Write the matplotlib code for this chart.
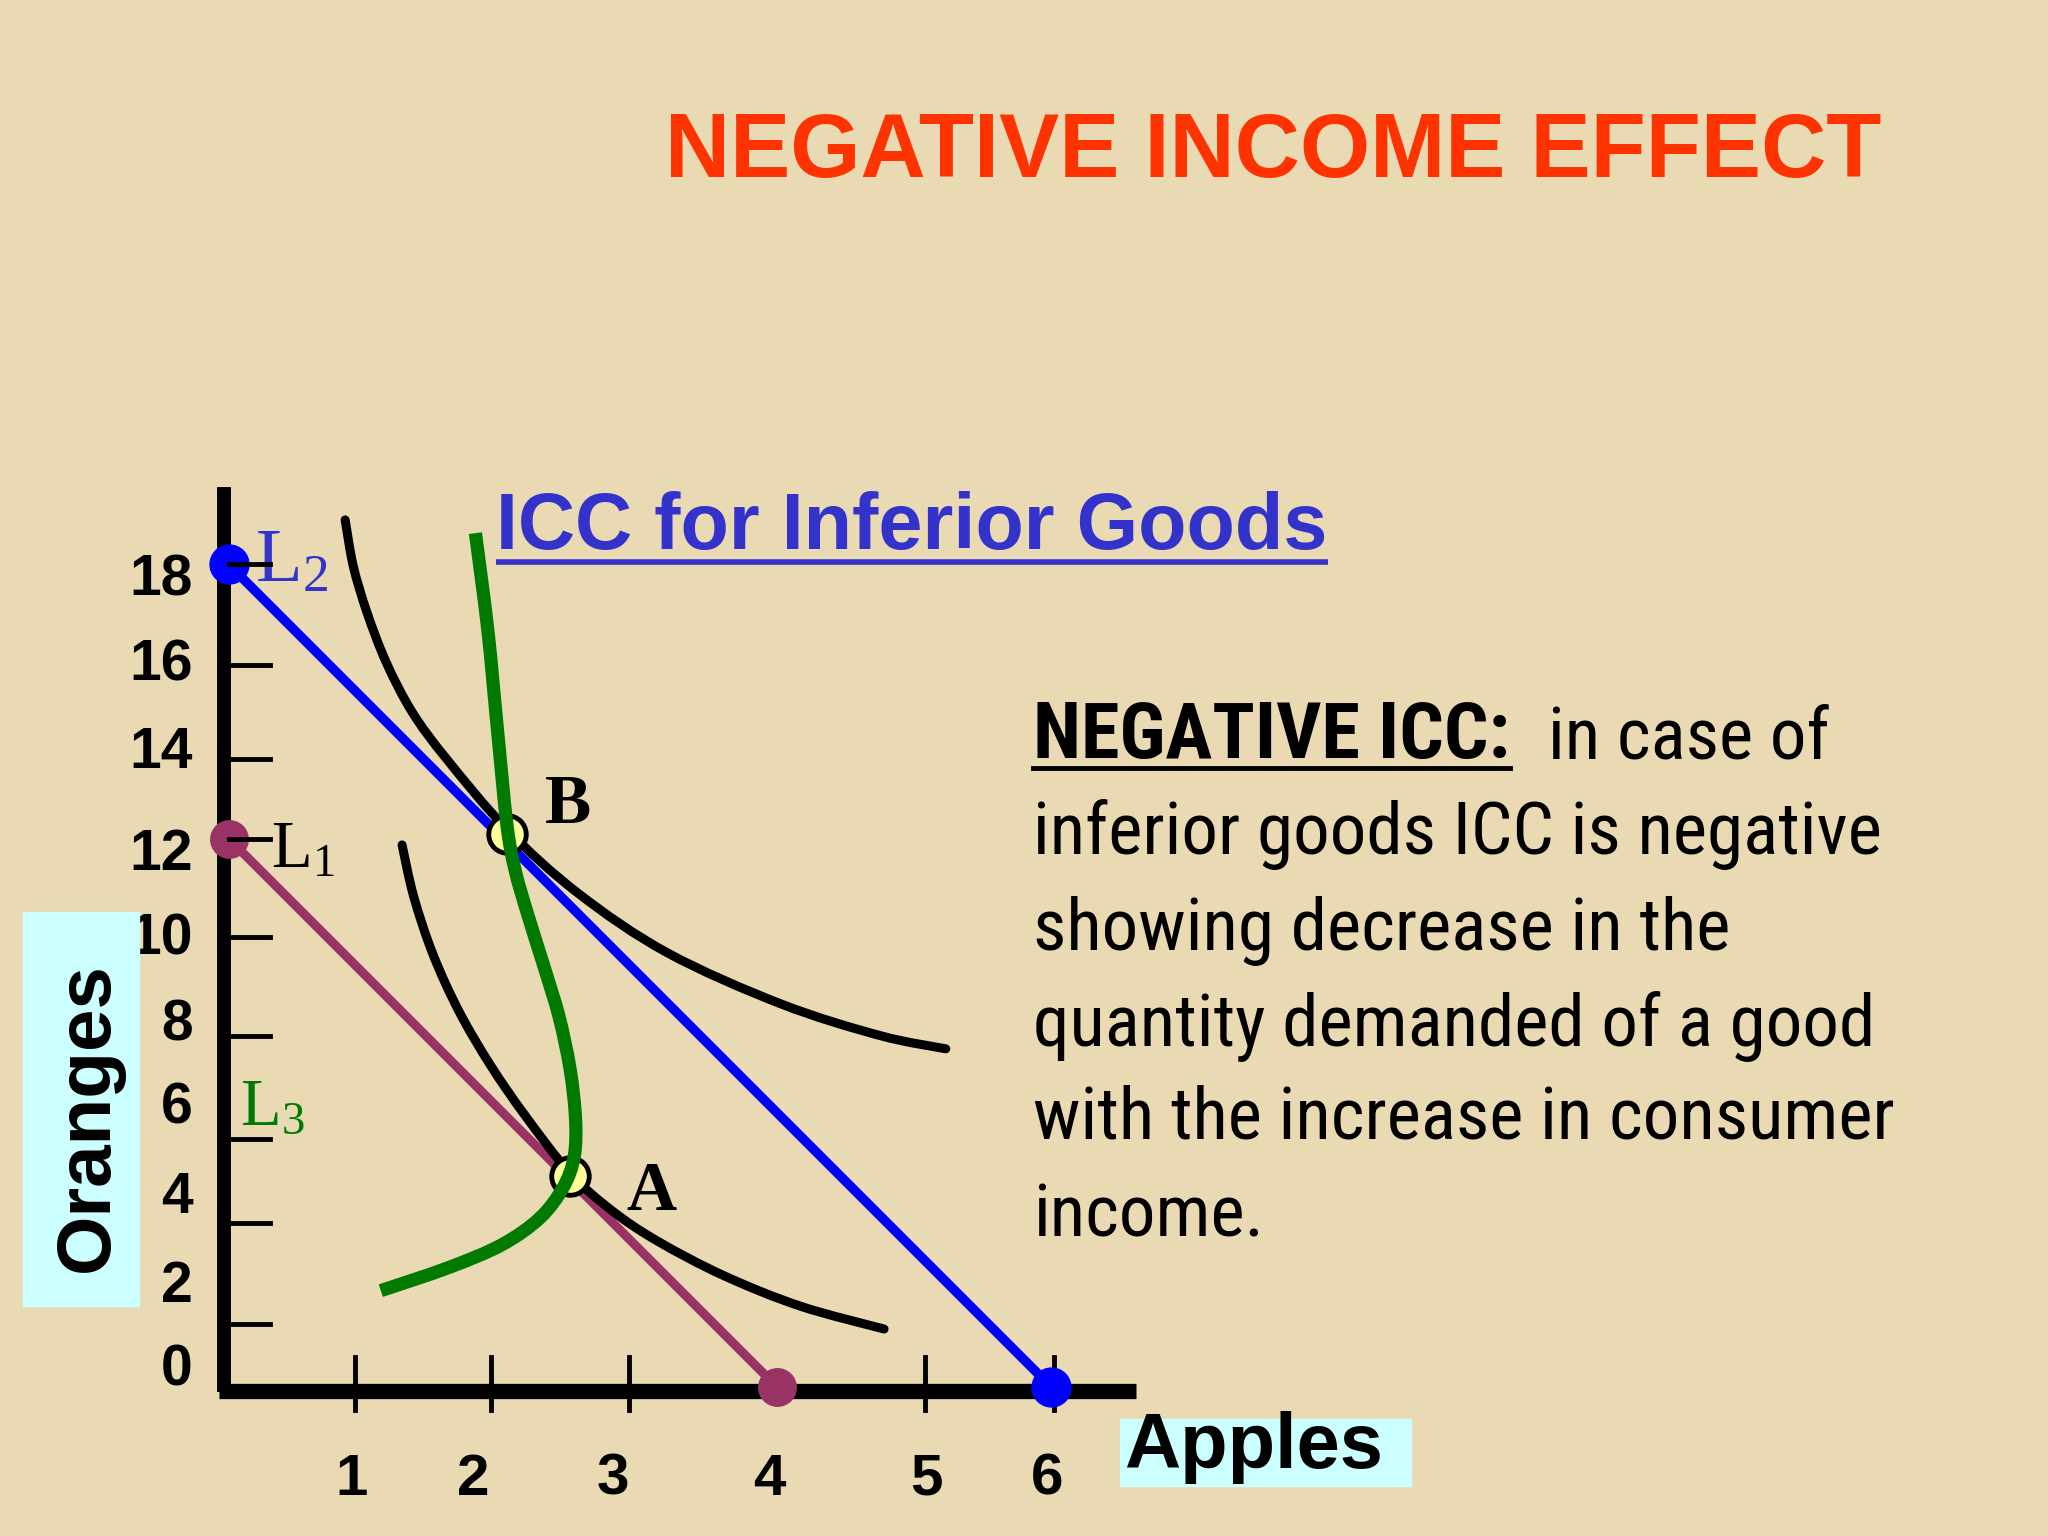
import matplotlib
matplotlib.use("Agg")
import matplotlib.pyplot as plt
from matplotlib import font_manager
from matplotlib.path import Path
from matplotlib.patches import PathPatch, Rectangle

# ---- data (apples on x, oranges on y) ----
l2_x = [0, 6]
l2_y = [18, 0]
l1_x = [0, 4]
l1_y = [12, 0]

ic2_x = [0.85, 0.91, 1.01, 1.15, 1.34, 1.59, 2.03, 2.55, 3.2, 4.03, 4.75, 5.23]
ic2_y = [18.97, 17.95, 16.94, 15.85, 14.76, 13.74, 12.2, 10.8, 9.5, 8.38, 7.69, 7.40]
ic1_x = [1.265, 1.35, 1.49, 1.68, 1.91, 2.16, 2.49, 2.8, 3.13, 3.61, 4.17, 4.78]
ic1_y = [11.86, 10.73, 9.47, 8.22, 7.04, 5.95, 4.68, 3.85, 3.19, 2.44, 1.77, 1.27]
icc_x = [1.80, 1.89, 1.96, 2.03, 2.09, 2.18, 2.30, 2.41, 2.49, 2.53, 2.52, 2.44, 2.27,
         1.99, 1.60, 1.11]
icc_y = [18.68, 16.57, 14.40, 12.29, 11.3, 10.35, 9.2, 8.1, 6.96, 5.87, 5.04, 4.37, 3.70,
         3.11, 2.61, 2.11]

eq_names = ["A", "B"]
eq_x = [2.49, 2.03]
eq_y = [4.62, 12.1]

y_labels = ["18", "16", "14", "12", "10", "8", "6", "4", "2", "0"]
y_label_pos = [17.65, 15.78, 13.87, 11.65, 9.8, 7.9, 6.09, 4.13, 2.2, 0.36]
y_ticks = [18, 15.8, 13.75, 12, 9.85, 7.68, 5.42, 3.6, 1.38]
x_labels = ["1", "2", "3", "4", "5", "6"]
x_label_pos = [0.895, 1.787, 2.8, 3.94, 5.09, 5.97]
x_ticks = [0.92, 1.91, 2.92, 5.08, 6.02]

desc_lines = ["inferior goods ICC is negative",
              "showing decrease in the",
              "quantity demanded of a good",
              "with the increase in consumer",
              "income."]

BG = "#eadab4"
BLUE = "#0000ff"
PURPLE = "#993366"
GREEN = "#007a00"

# pick a narrow sans for the body text (Arial Narrow look)
entries = {(f.name, f.stretch) for f in font_manager.fontManager.ttflist}
narrow = {"family": "Liberation Sans"}
for fam, st in [("Liberation Sans Narrow", None), ("Roboto Condensed", None),
                ("Open Sans Condensed", None), ("Noto Sans", "condensed"),
                ("Roboto", "condensed"), ("Open Sans", "condensed"),
                ("DejaVu Sans", "condensed")]:
    if st is None and any(n == fam for n, _ in entries):
        narrow = {"family": fam}
        break
    if st is not None and (fam, st) in entries:
        narrow = {"family": fam, "stretch": st}
        break

plt.rcParams["mathtext.fontset"] = "custom"
plt.rcParams["mathtext.rm"] = "Liberation Serif"
plt.rcParams["mathtext.it"] = "Liberation Serif:italic"


def smooth(ax, xs, ys, **kw):
    # Catmull-Rom curve through the read points, drawn as cubic bezier segments
    pts = list(zip(xs, ys))
    n = len(pts)
    verts = [pts[0]]
    codes = [Path.MOVETO]
    for i in range(n - 1):
        p0 = pts[max(i - 1, 0)]
        p1 = pts[i]
        p2 = pts[i + 1]
        p3 = pts[min(i + 2, n - 1)]
        c1 = (p1[0] + (p2[0] - p0[0]) / 6, p1[1] + (p2[1] - p0[1]) / 6)
        c2 = (p2[0] - (p3[0] - p1[0]) / 6, p2[1] - (p3[1] - p1[1]) / 6)
        verts += [c1, c2, p2]
        codes += [Path.CURVE4] * 3
    ax.add_patch(PathPatch(Path(verts, codes), fill=False, **kw))


fig = plt.figure(figsize=(20.48, 15.36), dpi=100, facecolor=BG)
ax = fig.add_axes([0, 0, 1, 1])
ax.set_facecolor(BG)
ax.set_xlim(-175 / 105, (1568 - 175) / 105)
ax.set_ylim((1062 - 1176) / 35, 1062 / 35)
ax.axis("off")
renderer = fig.canvas.get_renderer()

# axes
ax.plot([-0.03, -0.03], [-0.1, 19.7], color="black", lw=10, solid_capstyle="butt", zorder=1)
ax.plot([-0.07, 6.62], [-0.09, -0.09], color="black", lw=11, solid_capstyle="butt", zorder=1)
for t in y_ticks:
    ax.plot([0.0, 0.3], [t, t], color="black", lw=3.5, zorder=7)
for t in x_ticks:
    ax.plot([t, t], [-0.5, 0.65], color="black", lw=3.5, zorder=1)

for lab, y in zip(y_labels, y_label_pos):
    ax.text(-0.26, y, lab, ha="right", va="center", fontsize=41, fontweight="bold",
            family="Liberation Sans", zorder=2)
for lab, x in zip(x_labels, x_label_pos):
    ax.text(x, -2.03, lab, ha="center", va="center", fontsize=42, fontweight="bold",
            family="Liberation Sans")

# budget lines
ax.plot(l2_x, l2_y, color=BLUE, lw=6.8, zorder=2)
ax.plot(l1_x, l1_y, color=PURPLE, lw=6.5, zorder=2)
ax.plot(l2_x, l2_y, "o", color=BLUE, ms=28, zorder=6)
ax.plot(l1_x, l1_y, "o", color=PURPLE, ms=27, zorder=6)

# indifference curves and ICC
smooth(ax, ic2_x, ic2_y, color="black", lw=6.5, capstyle="round", zorder=3)
smooth(ax, ic1_x, ic1_y, color="black", lw=6.5, capstyle="round", zorder=3)
ax.plot(eq_x, eq_y, "o", ms=27, mfc="#ffff99", mec="black", mew=3.5, zorder=4)
smooth(ax, icc_x, icc_y, color=GREEN, lw=9.5, capstyle="butt", zorder=5)

ax.text(2.90, 3.87, eq_names[0], fontsize=50, fontweight="bold", family="Liberation Serif",
        va="baseline")
ax.text(2.31, 12.34, eq_names[1], fontsize=50, fontweight="bold", family="Liberation Serif",
        va="baseline")

ax.text(0.19, 17.63, r"$\mathrm{L}_{2}$", fontsize=55, color="#3333cc", va="baseline")
ax.text(0.31, 11.37, r"$\mathrm{L}_{1}$", fontsize=48, color="black", va="baseline")
ax.text(0.08, 5.73, r"$\mathrm{L}_{3}$", fontsize=48, color=GREEN, va="baseline")

# axis titles on cyan boxes
ax.add_patch(Rectangle((-1.498, 1.78), 0.844, 8.62, color="#ccffff", zorder=8))
ax.text(-1.02, 5.9, "Oranges", rotation=90, ha="center", va="center", fontsize=55,
        fontweight="bold", family="Liberation Sans", zorder=9)
ax.add_patch(Rectangle((6.5, -2.17), 2.12, 1.47, color="#ccffff", zorder=8))
ax.text(6.53, -1.77, "Apples", ha="left", va="baseline", fontsize=56,
        fontweight="bold", family="Liberation Sans", zorder=9)

# headings
fig.text(0.6216, 0.9, "NEGATIVE INCOME EFFECT", ha="center", va="center",
         fontsize=65, fontweight="bold", color="#ff3300", family="Liberation Sans")
icc_t = ax.text(1.952, 18.34, "ICC for Inferior Goods", ha="left", va="baseline",
                fontsize=57, fontweight="bold", color="#3333cc", family="Liberation Sans")

inv = ax.transData.inverted()
bb = icc_t.get_window_extent(renderer=renderer)
(ux0, _), (ux1, _) = inv.transform([[bb.x0, bb.y0], [bb.x1, bb.y0]])
ax.plot([ux0, ux1], [18.06, 18.06], color="#3333cc", lw=4, solid_capstyle="butt")

# description block: fit the widest line to the slide's width (~861 px)
probe = fig.text(0, 0, desc_lines[3], fontsize=56, **narrow)
w = probe.get_window_extent(renderer=renderer).width
probe.remove()
body_size = min(58, 56 * 861 / w)

probe = fig.text(0, 0, "NEGATIVE ICC:", fontsize=body_size, fontweight="bold", **narrow)
hw = probe.get_window_extent(renderer=renderer).width
probe.remove()
head_size = min(body_size * 1.1, body_size * 477 / hw)

x0 = 1033 / 2048
base = [0.5063, 0.444, 0.3815, 0.319, 0.2585, 0.1947]
head = fig.text(x0, base[0], "NEGATIVE ICC:", ha="left", va="baseline", fontsize=head_size,
                fontweight="bold", **narrow)
hb = head.get_window_extent(renderer=renderer)
fig.text(1548 / 2048, base[0], "in case of", ha="left", va="baseline",
         fontsize=body_size, **narrow)
fig.add_artist(plt.Line2D([hb.x0 / 2048, hb.x1 / 2048], [base[0] - 10 / 1536] * 2,
                          color="black", lw=3.5, transform=fig.transFigure))
for line, y in zip(desc_lines, base[1:]):
    fig.text(x0, y, line, ha="left", va="baseline", fontsize=body_size, **narrow)

fig.savefig("out.png", dpi=100, facecolor=BG)
